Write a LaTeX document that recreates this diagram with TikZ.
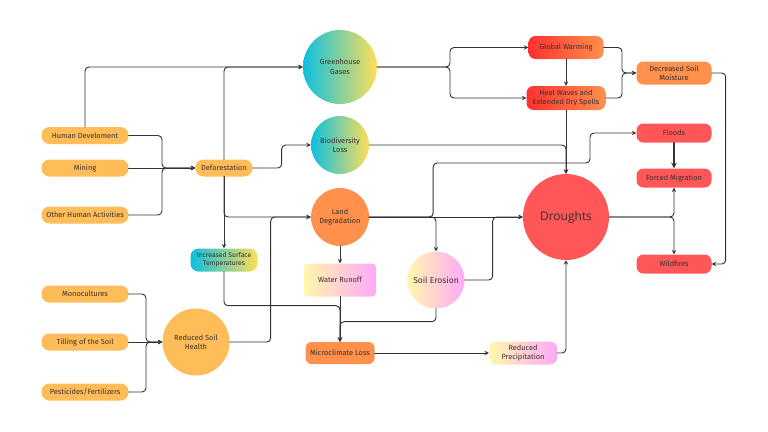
\documentclass[tikz,border=0pt]{standalone}
\usepackage{fontspec}
\setmainfont{Fira Sans}
\newfontfamily\bigfont{Open Sans}
\definecolor{orn}{HTML}{FFBD59}
\definecolor{orn2}{HTML}{FF914D}
\definecolor{redd}{HTML}{FF5757}
\definecolor{red1}{HTML}{FF3131}
\definecolor{cyn}{HTML}{0CC0DF}
\definecolor{ylw}{HTML}{FFDE59}
\definecolor{pyl}{HTML}{FFF7AD}
\definecolor{pnk}{HTML}{FFA9F9}
\definecolor{txt}{HTML}{3A2E2E}
\definecolor{lk}{HTML}{333333}
\begin{document}
\begin{tikzpicture}[x=1pt,y=-1pt,>=stealth, line join=round, line cap=round,
	font=\fontsize{7.4}{9.6}\selectfont,
	pill/.style={rounded corners=8pt, minimum width=87pt, minimum height=17pt, inner sep=1pt, text=txt, align=center},
	ball/.style={circle, inner sep=1pt, text=txt, align=center},
	link/.style={->, draw=lk, line width=0.95pt, rounded corners=4pt}]
	\useasboundingbox (0,0) rectangle (768,431);
	% causes on the left
	\node[pill, fill=orn] (hd) at (85,135.5) {Human Develoment};
	\node[pill, fill=orn] (mi) at (85,168) {Mining};
	\node[pill, fill=orn] (oh) at (85,215) {Other Human Activities};
	\node[pill, fill=orn] (mo) at (85,294) {Monocultures};
	\node[pill, fill=orn] (ti) at (85,342) {Tilling of the Soil};
	\node[pill, fill=orn] (pe) at (85,392) {Pesticides/Fertilizers};
	\node[pill, fill=orn, minimum width=57pt] (df) at (224,168) {Deforestation};
	\node[pill, left color=cyn, right color=ylw, minimum width=67pt, minimum height=23pt, font=\fontsize{6.8}{8}\selectfont] (ist) at (224,260) {Increased Surface\\Temperatures};
	\node[ball, fill=orn, minimum size=67pt] (rsh) at (196,342) {Reduced Soil\\Health};
	% middle column
	\node[ball, left color=cyn, right color=ylw, minimum size=74pt] (ghg) at (340,67) {Greenhouse\\Gases};
	\node[ball, left color=cyn, right color=ylw, minimum size=58pt] (bio) at (340,145) {Biodiversity\\Loss};
	\node[ball, fill=orn2, minimum size=58pt] (ld) at (340,217) {Land\\Degradation};
	\node[pill, rounded corners=4pt, left color=pyl, right color=pnk, minimum width=72pt, minimum height=33pt] (wr) at (340,280) {Water Runoff};
	\node[ball, left color=pyl, right color=pnk, minimum size=57pt, font=\fontsize{8.5}{10}\selectfont] (se) at (436,280) {Soil Erosion};
	\node[pill, rounded corners=6pt, fill=orn2, minimum width=69pt, minimum height=22pt] (ml) at (340,353) {Microclimate Loss};
	\node[pill, rounded corners=7pt, left color=pyl, right color=pnk, minimum width=68pt, minimum height=23pt] (rp) at (523,353) {Reduced\\Precipitation};
	% effects on the right
	\node[pill, rounded corners=7pt, left color=red1, right color=orn2, minimum width=75pt, minimum height=23pt] (gw) at (566,47.5) {Global Warming};
	\node[pill, rounded corners=7pt, left color=red1, right color=orn2, minimum width=79pt, minimum height=24pt, font=\fontsize{7.4}{8.6}\selectfont] (hw) at (566,98) {Heat Waves and\\Extended Dry Spells};
	\node[ball, fill=redd, minimum size=86pt, font=\bigfont\fontsize{12}{14}\selectfont] (dr) at (566,217) {Droughts};
	\node[pill, rounded corners=7pt, fill=orn2, minimum width=75pt, minimum height=23pt, font=\fontsize{7.4}{8.6}\selectfont] (dsm) at (674,73) {Decreased Soil\\Moisture};
	\node[pill, rounded corners=7pt, fill=redd, minimum width=75pt, minimum height=19pt] (fl) at (674,133) {Floods};
	\node[pill, rounded corners=7pt, fill=redd, minimum width=75pt, minimum height=19pt] (fm) at (674,178) {Forced Migration};
	\node[pill, rounded corners=7pt, fill=redd, minimum width=75pt, minimum height=19pt] (wf) at (674,264) {Wildfires};
	\coordinate (jd) at (162,168);
	\coordinate (jr) at (146,342);
	\coordinate (jg) at (450,67);
	\coordinate (jm) at (622,73);
	\coordinate (jfl) at (590,163);
	% connectors
	\draw[link] (hd.east) -| (jd) -- (df.west);
	\draw[link] (oh.east) -| (jd) -- (df.west);
	\draw[link] (mi.east) -- (df.west);
	\draw[link] (hd.north) |- (ghg.west);
	\draw[link] (df.north) |- (ghg.west);
	\draw[link] (df.south) -- (ist.north);
	\draw[link] (df.south) |- (ld.west);
	\draw[link] (df.east) -- ++(29,0) |- (bio.west);
	\draw[link] (mo.east) -| (jr) -- (rsh.west);
	\draw[link] (pe.east) -| (jr) -- (rsh.west);
	\draw[link] (ti.east) -- (rsh.west);
	\draw[link] (rsh.east) -- ++(41,0) |- (ld.west);
	\draw[link] (ghg.east) -- (jg) |- (gw.west);
	\draw[link] (ghg.east) -- (jg) |- (hw.west);
	\draw[link] (gw.south) -- (hw.north);
	\draw[link] (gw.east) -| (jm) -- (dsm.west);
	\draw[link] (hw.east) -| (jm) -- (dsm.west);
	\draw[link] (hw.south) -- (dr.north);
	\draw[link] (bio.east) -| (dr.north);
	\draw[link] (dsm.east) -- ++(14,0) |- (wf.east);
	\draw[link, line width=1.5pt] (fl.south) -- (fm.north);
	\draw[link] (dr.east) -| (fm.south);
	\draw[link] (dr.east) -| (wf.north);
	\draw[link] (ld.east) -- (dr.west);
	\draw[link] (ld.east) -| (se.north);
	\draw[link] (ld.east) -- ++(64,0) |- (jfl) |- (fl.west);
	\draw[link] (se.east) -- ++(28,0) |- (dr.west);
	\draw[link] (ld.south) -- (wr.north);
	\draw[link] (wr.south) -- (ml.north);
	\draw[link] (se.south) -- ++(0,13) -| (ml.north);
	\draw[link] (ist.south) -- ++(0,34) -| (ml.north);
	\draw[link] (ml.east) -- (rp.west);
	\draw[link] (rp.east) -| (dr.south);
\end{tikzpicture}
\end{document}
